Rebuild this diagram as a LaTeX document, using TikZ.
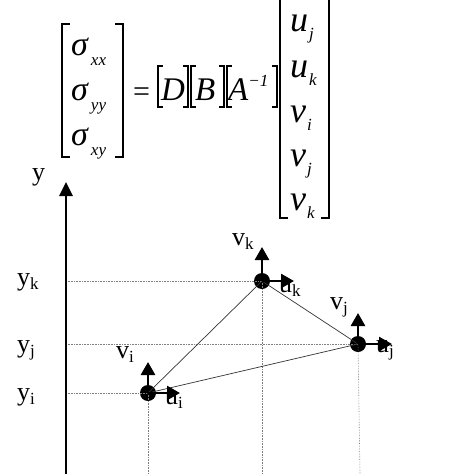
\documentclass[tikz,border=0pt]{standalone}
\usepackage{fontspec}
\setmainfont{Liberation Serif}
\usetikzlibrary{arrows.meta}
\newcommand{\bigf}{\fontsize{36}{36}\selectfont}
\newcommand{\sigf}{\fontsize{34}{34}\selectfont}
\newcommand{\matf}{\fontsize{33}{33}\selectfont}
\newcommand{\eqsf}{\fontsize{30}{30}\selectfont}
\newcommand{\subf}{\fontsize{17}{17}\selectfont}
\newcommand{\lblf}{\fontsize{26}{26}\selectfont}
\newcommand{\lsubf}{\fontsize{17}{17}\selectfont}
\tikzset{
  grid line/.style={gray, densely dotted, line width=0.6pt},
  edge line/.style={black!80, line width=0.7pt},
  dof/.style={line width=2.6pt, -{Triangle[length=13pt,width=14pt]}},
  nodept/.style={circle, fill=black, minimum size=16pt, inner sep=0pt},
  brk/.style={line width=1.3pt},
  lbl/.style={inner sep=0pt, anchor=base west},
}
\begin{document}
\begin{tikzpicture}[x=1pt,y=-1pt]
\useasboundingbox (0,0) rectangle (474,474);
% grid lines
\coordinate (yk) at (66,281);
\coordinate (yj) at (66,344);
\coordinate (yi) at (66,393);
\coordinate (bi) at (148,474);
\coordinate (bk) at (262,474);
\coordinate (bj) at (360,474);
\node[nodept] (ni) at (148,393) {};
\node[nodept] (nk) at (262,281) {};
\node[nodept] (nj) at (358,344) {};
\draw[grid line] (yk) -- (nk.center);
\draw[grid line] (yj) -- (nj.center);
\draw[grid line] (yi) -- (ni.center);
\draw[grid line] (ni.center) -- (bi);
\draw[grid line] (nk.center) -- (bk);
\draw[grid line] (nj.center) -- (bj);
% triangle
\draw[edge line] (ni.center) -- (nk.center) -- (nj.center) -- cycle;
% axis
\coordinate (ax0) at (66,474);
\coordinate (ax1) at (66,182);
\draw[line width=2.8pt, -{Triangle[length=14pt,width=13pt]}] (ax0) -- (ax1);
\node[lbl] (ylab) at (32,180) {\lblf y};
\node[lbl] (lyk) at (17,285) {\lblf y\raisebox{-4pt}{\lsubf k}};
\node[lbl] (lyj) at (17,352) {\lblf y\raisebox{-4pt}{\lsubf j}};
\node[lbl] (lyi) at (17,400) {\lblf y\raisebox{-4pt}{\lsubf i}};
% dof arrows
\foreach \n/\up/\rt in {ni/31/32,nk/34/32,nj/31/34}{
  \coordinate (\n up) at ([yshift=\up pt]\n.center);
  \coordinate (\n rt) at ([xshift=\rt pt]\n.center);
  \draw[dof] (\n.center) -- (\n up);
  \draw[dof] (\n.center) -- (\n rt);
}
% dof labels
\node[lbl] (lvk) at (232,245) {\lblf v\raisebox{-4pt}{\lsubf k}};
\node[lbl] (luk) at (279,292) {\lblf u\raisebox{-4pt}{\lsubf k}};
\node[lbl] (lvj) at (330,309) {\lblf v\raisebox{-4pt}{\lsubf j}};
\node[lbl] (luj) at (376,352) {\lblf u\raisebox{-4pt}{\lsubf j}};
\node[lbl] (lvi) at (116,358) {\lblf v\raisebox{-4pt}{\lsubf i}};
\node[lbl] (lui) at (165,404) {\lblf u\raisebox{-4pt}{\lsubf i}};
% stress vector bracket
\draw[brk] (70,24) -- (62,24) -- (62,157) -- (70,157);
\draw[brk] (115,24) -- (123,24) -- (123,157) -- (115,157);
\node[lbl] (sxx) at (71,55) {\sigf\itshape σ\hspace{3pt}\raisebox{-10pt}{\subf\itshape xx}};
\node[lbl] (syy) at (71,100) {\sigf\itshape σ\hspace{3pt}\raisebox{-10pt}{\subf\itshape yy}};
\node[lbl] (sxy) at (71,145) {\sigf\itshape σ\hspace{3pt}\raisebox{-10pt}{\subf\itshape xy}};
% equals and matrices
\node[lbl] (eq) at (133,101) {\eqsf =};
\draw[brk] (163,66) -- (158,66) -- (158,107) -- (163,107);
\node[lbl] (md) at (161,100) {\matf\itshape D};
\draw[brk] (183,66) -- (188,66) -- (188,107) -- (183,107);
\draw[brk] (196,66) -- (191,66) -- (191,107) -- (196,107);
\node[lbl] (mb) at (195,100) {\matf\itshape B};
\draw[brk] (219,66) -- (224,66) -- (224,107) -- (219,107);
\draw[brk] (232,66) -- (227,66) -- (227,107) -- (232,107);
\node[lbl] (ma) at (228,100) {\matf\itshape A\raisebox{14pt}{\fontsize{17}{17}\selectfont −1}};
\draw[brk] (272,66) -- (277,66) -- (277,107) -- (272,107);
% displacement vector
\draw[brk] (288,-2) -- (280,-2) -- (280,218) -- (288,218);
\draw[brk] (321,-2) -- (329,-2) -- (329,218) -- (321,218);
\node[lbl] (vuj) at (290,31) {\bigf\itshape u\hspace{1pt}\raisebox{-8pt}{\subf\itshape j}};
\node[lbl] (vuk) at (290,77) {\bigf\itshape u\hspace{1pt}\raisebox{-8pt}{\subf\itshape k}};
\node[lbl] (vvi) at (290,122) {\bigf\itshape v\hspace{1pt}\raisebox{-8pt}{\subf\itshape i}};
\node[lbl] (vvj) at (290,166) {\bigf\itshape v\hspace{1pt}\raisebox{-8pt}{\subf\itshape j}};
\node[lbl] (vvk) at (290,210) {\bigf\itshape v\hspace{1pt}\raisebox{-8pt}{\subf\itshape k}};
\end{tikzpicture}
\end{document}
